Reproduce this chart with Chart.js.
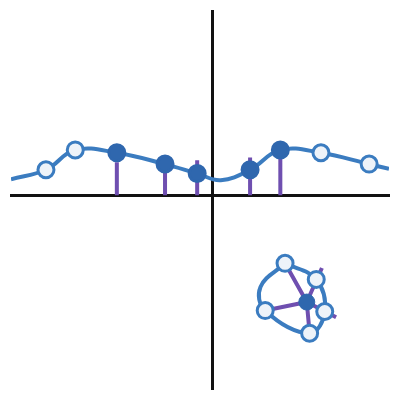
<!DOCTYPE html><html><head><script src="https://cdn.jsdelivr.net/npm/chart.js@4"></script>
<style>html,body{margin:0;background:#fff}#w{width:400px;height:400px}</style></head><body><div id="w"><canvas id="c"></canvas></div>
<script>
const curveX=[0,37,68,112,163,197,222,253,285,328,379,400];
const curveY=[-178,-168,-147,-150,-162,-172,-179,-168,-147,-150,-162,-167];
const curveKind=['n','o','o','f','f','f','n','f','f','o','o','n'];
const stemX=[112,163,197,253,285];
const stemTop=[-160,-166,-158,-155,-150];
const loopX=[290,323,332,316,269,264,290];
const loopY=[-267,-284,-318,-341,-317,-292,-267];
const loopKind=['o','o','o','o','o','n','n'];
const hubX=313, hubY=-308;
const spokeX=[290,329,344,316,269];
const spokeY=[-267,-272,-324,-341,-317];
const blue='#3b7cc0', dark='#2f67ae', purple='#6f4fb0', hollow='#eef3f9';
const gap={x:NaN,y:NaN};
const stems=[];stemX.forEach((x,i)=>{stems.push({x:x,y:-195},{x:x,y:stemTop[i]},gap);});
const spokes=[];spokeX.forEach((x,i)=>{spokes.push({x:hubX,y:hubY},{x:x,y:spokeY[i]},gap);});
const curve=curveX.map((x,i)=>({x:x,y:curveY[i]}));
const loopPts=loopX.map((x,i)=>({x:x,y:loopY[i]}));
const ax={grid:{display:false,drawTicks:false,tickLength:0},ticks:{display:false,padding:0},border:{color:'#111',width:3}};
new Chart(document.getElementById('c'),{type:'scatter',data:{datasets:[
{data:stems,showLine:true,spanGaps:false,borderColor:purple,borderWidth:4,pointRadius:0,order:5},
{data:spokes,showLine:true,spanGaps:false,borderColor:purple,borderWidth:4,pointRadius:0,order:4},
{data:curve,showLine:true,tension:0.4,borderColor:blue,borderWidth:4,
 pointRadius:curveKind.map(k=>k==='n'?0:8),
 pointBackgroundColor:curveKind.map(k=>k==='f'?dark:hollow),
 pointBorderColor:curveKind.map(k=>k==='f'?dark:blue),pointBorderWidth:3,order:2},
{data:loopPts,showLine:true,tension:0.4,borderColor:blue,borderWidth:4,
 pointRadius:loopKind.map(k=>k==='n'?0:8),pointBackgroundColor:hollow,pointBorderColor:blue,pointBorderWidth:3,order:1},
{data:[{x:hubX,y:hubY}],pointRadius:8,pointBackgroundColor:dark,pointBorderColor:dark,order:0}
]},options:{animation:false,responsive:true,maintainAspectRatio:false,layout:{padding:0},
plugins:{legend:{display:false},tooltip:{enabled:false}},
scales:{x:Object.assign({type:'linear',min:0,max:400,position:{y:-195}},ax),
y:Object.assign({type:'linear',min:-400,max:0,position:{x:213}},ax)}}});
</script></body></html>
